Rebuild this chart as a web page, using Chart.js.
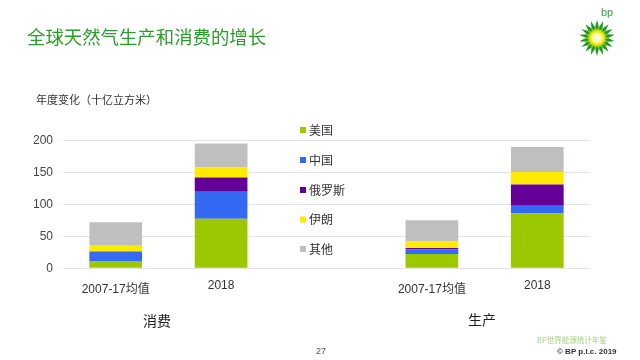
<!DOCTYPE html>
<html>
<head>
<meta charset="utf-8">
<script src="https://cdn.jsdelivr.net/npm/chart.js@4.4.1/dist/chart.umd.min.js"></script>
<style>
  html, body { margin:0; padding:0; background:#fff; }
  body { width:640px; height:360px; position:relative; overflow:hidden;
         font-family:"Liberation Sans","Noto Sans CJK SC",sans-serif; }
  #wrap { position:absolute; left:0; top:0; width:640px; height:360px; }
  .t { position:absolute; white-space:nowrap; line-height:1; }
</style>
</head>
<body>
<div id="wrap"><canvas id="c" width="640" height="360"></canvas></div>
<div class="t" style="left:27px;top:27px;font-size:18.4px;color:#2a9d2a;font-family:'Noto Sans CJK SC',sans-serif;">全球天然气生产和消费的增长</div>
<div class="t" style="left:36px;top:94px;font-size:11px;color:#333;font-family:'Noto Sans CJK SC',sans-serif;">年度变化（十亿立方米）</div>
<div class="t" style="left:143px;top:313px;font-size:14px;color:#222;font-family:'Noto Sans CJK SC',sans-serif;">消费</div>
<div class="t" style="left:468px;top:312px;font-size:14px;color:#222;font-family:'Noto Sans CJK SC',sans-serif;">生产</div>
<div class="t" style="left:316px;top:347px;font-size:9px;color:#555;">27</div>
<div class="t" style="left:537px;top:336px;font-size:7.5px;color:#a6d27a;font-family:'Noto Sans CJK SC',sans-serif;">BP世界能源统计年鉴</div>
<div class="t" style="left:557px;top:348px;font-size:8px;color:#333;font-weight:bold;">© BP p.l.c. 2019</div>
<div class="t" style="left:601px;top:7px;font-size:11px;color:#3a9a3a;">bp</div>
<svg id="logo" width="40" height="40" style="position:absolute;left:577px;top:18px;" viewBox="-20 -20 40 40"></svg>
<script>
// ---- data ----
const categories = ['2007-17均值', '2018', '', '2007-17均值', '2018'];
const seriesNames = ['美国', '中国', '俄罗斯', '伊朗', '其他'];
const usValues     = [11.5, 77.5, null, 22.5, 86];
const chinaValues  = [14.5, 42.5, null, 7, 12];
const russiaValues = [0.5, 22.5, null, 2.5, 33.5];
const iranValues   = [9, 15.5, null, 10.5, 19.5];
const otherValues  = [36.5, 37.5, null, 33, 39];
const yTicks = [0, 50, 100, 150, 200];

const colors = ['#9bc800', '#3469f3', '#640096', '#ffea00', '#bfbfbf'];
const seriesValues = [usValues, chinaValues, russiaValues, iranValues, otherValues];

// ---- bp logo (decoration) ----
(function(){
  const svg = document.getElementById('logo');
  const n = 18; let pts = [];
  for (let i = 0; i < n * 2; i++) {
    const a = Math.PI * i / n - Math.PI / 2;
    const r = (i % 2 === 0) ? 18 : 11;
    pts.push((r * Math.cos(a)).toFixed(2) + ',' + (r * Math.sin(a)).toFixed(2));
  }
  let pts2 = [];
  for (let i = 0; i < n * 2; i++) {
    const a = Math.PI * i / n - Math.PI / 2 + Math.PI / n;
    const r = (i % 2 === 0) ? 12.5 : 8;
    pts2.push((r * Math.cos(a)).toFixed(2) + ',' + (r * Math.sin(a)).toFixed(2));
  }
  svg.innerHTML =
    '<defs><radialGradient id="g"><stop offset="0" stop-color="#ffffff"/><stop offset="0.45" stop-color="#fffbb0"/><stop offset="0.8" stop-color="#f2e600"/><stop offset="1" stop-color="#b5d400"/></radialGradient></defs>' +
    '<polygon points="' + pts.join(' ') + '" fill="#1f9a1f"/>' +
    '<polygon points="' + pts2.join(' ') + '" fill="#8cc63f"/>' +
    '<circle r="8.5" fill="url(#g)"/>';
})();

// ---- legend plugin ----
const legendPlugin = {
  id: 'midLegend',
  afterDraw(chart) {
    const ctx = chart.ctx;
    const ys = [130, 160, 190, 219.5, 249];
    ctx.save();
    chart.data.datasets.forEach((ds, i) => {
      ctx.fillStyle = ds.backgroundColor;
      ctx.fillRect(300, ys[i] - 3, 6, 6);
      ctx.fillStyle = '#333';
      ctx.font = '12px "Noto Sans CJK SC", sans-serif';
      ctx.textBaseline = 'middle';
      ctx.fillText(ds.label, 309, ys[i]);
    });
    ctx.restore();
  }
};

new Chart(document.getElementById('c'), {
  type: 'bar',
  data: {
    labels: categories,
    datasets: seriesNames.map((name, i) => ({
      label: name,
      data: seriesValues[i],
      backgroundColor: colors[i],
      borderWidth: 0,
      barPercentage: 0.5,
      categoryPercentage: 1.0
    }))
  },
  options: {
    responsive: false,
    animation: false,
    devicePixelRatio: 1,
    layout: { padding: { left: 0, top: 140.7, right: 50, bottom: 41.7 } },
    plugins: { legend: { display: false }, tooltip: { enabled: false } },
    scales: {
      x: {
        stacked: true,
        grid: { display: false, drawTicks: false },
        border: { display: false },
        ticks: {
          color: '#333',
          padding: 14,
          maxRotation: 0,
          autoSkip: false,
          font: (ctx) => ({
            family: '"Liberation Sans", "Noto Sans CJK SC", sans-serif',
            size: 12,
            lineHeight: (ctx.index === 1 || ctx.index === 4) ? '7.4px' : '15.4px'
          })
        },
        afterFit: (s) => { s.height = 50; }
      },
      y: {
        stacked: true,
        min: 0, max: 200,
        afterBuildTicks: (s) => { s.ticks = yTicks.map(v => ({ value: v })); },
        grid: { color: '#e3e3e3', drawTicks: false, lineWidth: 1 },
        border: { display: false },
        ticks: {
          color: '#444',
          padding: 10,
          font: { family: '"Liberation Sans", sans-serif', size: 12 }
        },
        afterFit: (s) => { s.width = 63; }
      }
    }
  },
  plugins: [legendPlugin]
});
</script>
</body>
</html>
